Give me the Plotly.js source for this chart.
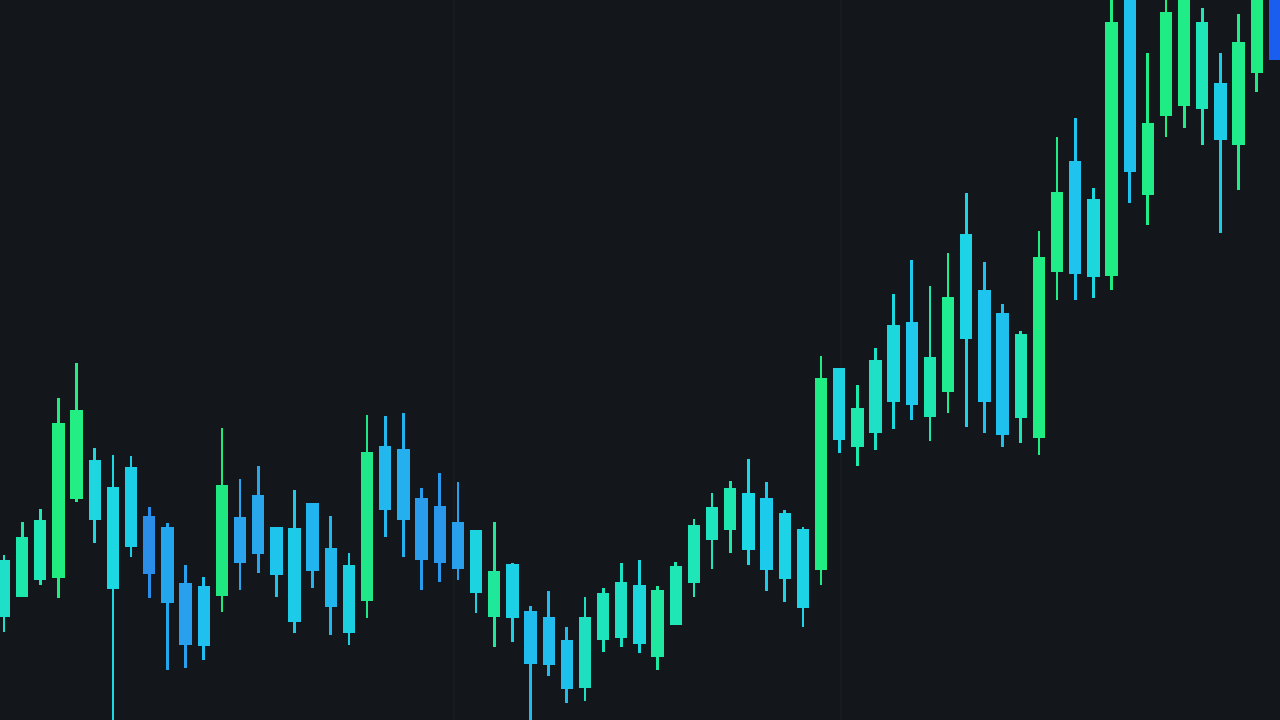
<!DOCTYPE html>
<html>
<head>
<meta charset="utf-8">
<script src="https://cdn.plot.ly/plotly-3.0.1.min.js"></script>
<style>
  html, body { margin: 0; padding: 0; background: #13171c; overflow: hidden; }
  #chart { width: 1280px; height: 720px; }
</style>
</head>
<body>
<div id="chart"></div>
<script>
// Candle index (session number)
const sessions = Array.from({length: 71}, (_, i) => i);

const openPrices  = [103,123,140,142,221,260,233,173,204,193,137,74,124,203,166,193,192,149,172,155,119,210,271,222,157,198,190,103,156,109,55,80,32,80,82,135,63,95,137,180,190,227,222,207,191,150,352,273,287,318,398,303,328,381,430,407,302,282,448,559,443,444,740,525,604,614,698,637,575,647,740];
const highPrices  = [165,198,211,322,357,272,265,264,213,197,155,143,292,241,254,193,230,217,204,167,305,304,307,232,247,238,190,198,157,114,129,93,123,132,157,160,134,158,201,227,239,261,238,210,193,364,352,335,372,426,460,434,467,527,458,416,389,489,583,602,532,740,750,667,740,750,712,667,706,750,750];
const lowPrices   = [88,123,135,122,218,177,-10,163,122,50,52,60,108,130,147,123,87,132,85,75,102,183,163,130,138,140,107,73,78,-10,44,17,19,68,73,67,50,95,123,151,167,155,129,118,93,135,267,254,270,291,300,279,307,293,287,273,277,265,420,420,422,430,517,495,583,592,575,487,530,628,660];
const closePrices = [160,183,200,297,310,200,131,253,146,117,75,134,235,157,225,145,98,217,113,87,268,274,200,160,214,151,127,149,102,56,103,31,103,127,138,76,130,154,195,213,232,170,150,141,112,342,280,312,360,395,315,363,423,486,318,285,386,463,528,446,521,698,548,597,708,740,611,580,678,740,660];

// Colour of each candle as seen in the picture (green -> cyan -> blue glow)
const candleColors = [
  '#1ee0c8','#1de8ac','#1de8b8','#20ec80','#22ee84','#1ed6e0','#1cd8e2','#1ccfe8','#2a8ee8','#24a6ec',
  '#28a0ee','#1fc0ee','#1fe880','#2aa4ec','#2aa6ec','#1ec4ec','#1ccbe8','#22b4ee','#20b8ec','#1ccfe0',
  '#20e888','#22b8ee','#24b0ee','#2a9cec','#2a98ea','#28a0ec','#1cd4e0','#20e89a','#1cd0e6','#20bcee',
  '#22bcee','#1fbfec','#1ee0c0','#1ee4bc','#1ee0c4','#1cd8dc','#20e8a0','#1ee6b4','#1ee6b8','#1ee4c0',
  '#1ee8b0','#1cd8e4','#1ccbec','#1cd4e6','#1cd4e6','#20ec84','#1cd4e4','#1ee8ac','#1ee0c4','#1cd8dc',
  '#1fc8ec','#1ee6b0','#20ec90','#1cd4e6','#1fc4ee','#1fc0ee','#1ee6b4','#20ec84','#20ec88','#1fc4ee',
  '#1cd8dc','#20ec84','#1fc0ee','#20ec88','#20ec84','#20ec88','#1ee6b8','#1ccce6','#20ec8c','#20ec84',
  '#1a5ef0'
];

const bodyBase = openPrices.map((o, i) => Math.min(o, closePrices[i]));
const bodySize = openPrices.map((o, i) => Math.max(1, Math.abs(closePrices[i] - o)));
const wickSize = highPrices.map((h, i) => h - lowPrices[i]);

const wicks = {
  type: 'bar', x: sessions, base: lowPrices, y: wickSize, width: 0.15,
  marker: { color: candleColors, line: { width: 0 } },
  hoverinfo: 'skip', showlegend: false
};
const bodies = {
  type: 'bar', x: sessions, base: bodyBase, y: bodySize, width: 0.68,
  marker: { color: candleColors, line: { width: 0 } },
  customdata: sessions.map((_, i) => [openPrices[i], highPrices[i], lowPrices[i], closePrices[i]]),
  hovertemplate: 'O %{customdata[0]}<br>H %{customdata[1]}<br>L %{customdata[2]}<br>C %{customdata[3]}<extra></extra>',
  showlegend: false
};

const layout = {
  width: 1280, height: 720,
  margin: { l: 0, r: 0, t: 0, b: 0, pad: 0 },
  paper_bgcolor: '#13171c', plot_bgcolor: '#13171c',
  barmode: 'overlay', bargap: 0,
  showlegend: false,
  xaxis: {
    range: [-0.22, 70.28], showticklabels: false, zeroline: false, showline: false,
    showgrid: true, tickvals: [24.8, 46.1], gridcolor: '#171c21', gridwidth: 2, ticks: ''
  },
  yaxis: {
    range: [0, 720], showticklabels: false, zeroline: false, showline: false, showgrid: false, ticks: ''
  }
};

Plotly.newPlot('chart', [wicks, bodies], layout, { displayModeBar: false });
</script>
</body>
</html>
